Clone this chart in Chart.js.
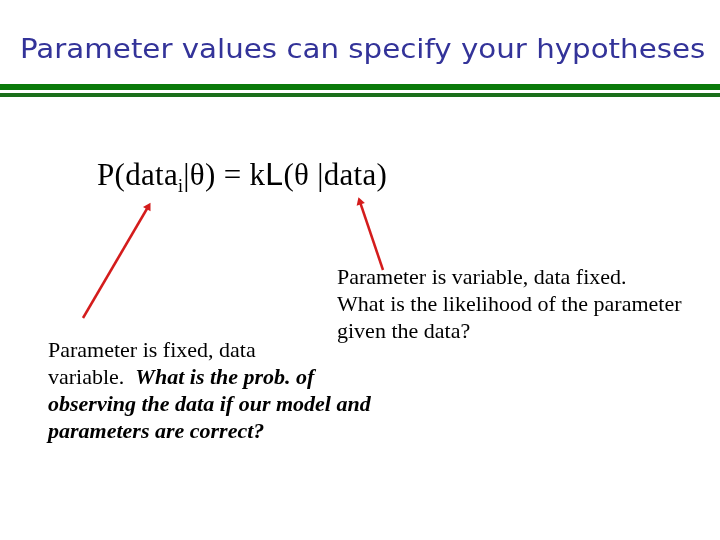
<!DOCTYPE html>
<html>
<head>
<meta charset="utf-8">
<script src="https://cdn.jsdelivr.net/npm/chart.js@4"></script>
<style>
  html,body{margin:0;padding:0;background:#fff;}
  #wrap{position:relative;width:720px;height:540px;overflow:hidden;}
  canvas{position:absolute;left:0;top:0;}
  .t{position:absolute;white-space:nowrap;color:#000;}
  #title{left:20px;top:33px;font-family:"DejaVu Sans",sans-serif;font-size:26px;line-height:32px;color:#333399;transform-origin:0 0;transform:scaleX(1.127);}
  #eq{left:97px;top:156px;font-family:"Liberation Serif","Times New Roman",serif;font-size:31px;line-height:36px;letter-spacing:0.3px;}
  #eq sub{font-size:18px;vertical-align:-7px;line-height:0;}
  #eq .L{font-family:"Liberation Sans",Arial,sans-serif;font-size:32px;}
  .body{font-family:"Liberation Serif","Times New Roman",serif;font-size:22px;line-height:27px;}
  #right{left:337px;top:263px;}
  #left{left:48px;top:336px;}
  .bi{font-weight:bold;font-style:italic;}
</style>
</head>
<body>
<div id="wrap">
  <canvas id="c" width="720" height="540"></canvas>
  <div class="t" id="title">Parameter values can specify your hypotheses</div>
  <div class="t" id="eq">P(data<sub>i</sub>|θ) = k<span class="L">L</span>(θ |data)</div>
  <div class="t body" id="right">Parameter is variable, data fixed.<br>What is the likelihood of the parameter<br>given the data?</div>
  <div class="t body" id="left">Parameter is fixed, data<br>variable.&nbsp; <span class="bi">What is the prob. of</span><br><span class="bi">observing the data if our model and</span><br><span class="bi">parameters are correct?</span></div>
</div>
<script>
// Arrow endpoints (tail -> tip), in slide pixel units
const arrow1X = [83, 148];
const arrow1Y = [318, 207];
const arrow2X = [383, 360];
const arrow2Y = [270, 202];
const arrowRotation = [30, -18];
// Green rule lines across the header
const ruleX = [0, 720];
const rule1Y = [87, 87];
const rule2Y = [95, 95];

const pts = (xs, ys) => xs.map((x, i) => ({x: x, y: ys[i]}));
const red = '#d41c1c';

new Chart(document.getElementById('c'), {
  type: 'scatter',
  data: {
    datasets: [
      {data: pts(ruleX, rule1Y), showLine: true, borderColor: '#0b7a0b', borderWidth: 6, pointRadius: 0, clip: false},
      {data: pts(ruleX, rule2Y), showLine: true, borderColor: '#1b6f1b', borderWidth: 4, pointRadius: 0, clip: false},
      {data: pts(arrow1X, arrow1Y), showLine: true, borderColor: red, borderWidth: 2.5,
       backgroundColor: red, pointStyle: 'triangle', pointRadius: [0, 5], pointRotation: arrowRotation[0], pointBorderWidth: 0},
      {data: pts(arrow2X, arrow2Y), showLine: true, borderColor: red, borderWidth: 2.5,
       backgroundColor: red, pointStyle: 'triangle', pointRadius: [0, 5], pointRotation: arrowRotation[1], pointBorderWidth: 0}
    ]
  },
  options: {
    responsive: false,
    animation: false,
    events: [],
    layout: {padding: 0, autoPadding: false},
    plugins: {legend: {display: false}, tooltip: {enabled: false}, title: {display: false}},
    scales: {
      x: {type: 'linear', min: 0, max: 720, display: false},
      y: {type: 'linear', min: 0, max: 540, reverse: true, display: false}
    }
  }
});
</script>
</body>
</html>
